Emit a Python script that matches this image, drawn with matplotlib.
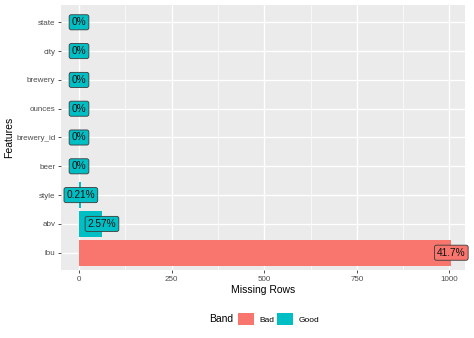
import matplotlib
matplotlib.use("Agg")
import matplotlib.pyplot as plt
from matplotlib.patches import Patch

features = ["state", "city", "brewery", "ounces", "brewery_id", "beer", "style", "abv", "ibu"]
missing_rows = [0, 0, 0, 0, 0, 0, 5, 62, 1005]
pct_labels = ["0%", "0%", "0%", "0%", "0%", "0%", "0.21%", "2.57%", "41.7%"]
band = ["Good", "Good", "Good", "Good", "Good", "Good", "Good", "Good", "Bad"]
band_colors = {"Bad": "#F8766D", "Good": "#00BFC4"}
x_ticks = [0, 250, 500, 750, 1000]
x_minor = [125, 375, 625, 875]

plt.rcParams['font.family'] = ['Liberation Sans', 'DejaVu Sans']

fig = plt.figure(figsize=(4.74, 3.38), dpi=100)
ax = fig.add_axes([61/474, 1-270/338, (465-61)/474, (270-5)/338])
ax.set_facecolor("#EBEBEB")

n = len(features)
ypos = [n - 1 - i for i in range(n)]
cols = [band_colors[b] for b in band]
ax.barh(ypos, missing_rows, height=0.9, color=cols, zorder=2)

for y, v, lab, c in zip(ypos, missing_rows, pct_labels, cols):
    ax.text(v, y, lab, ha="center", va="center", fontsize=7.3, color="#111111", zorder=3,
            bbox=dict(boxstyle="round,pad=0.25,rounding_size=0.2", fc=c, ec="#3a3a3a", lw=0.6))

ax.set_xlim(-48.6, 1042)
ax.set_ylim(-0.6, n - 1 + 0.6)
ax.set_yticks(ypos)
ax.set_yticklabels(features)
ax.set_xticks(x_ticks)
ax.set_xticks(x_minor, minor=True)
ax.grid(True, which="major", color="white", lw=1.0, zorder=0)
ax.grid(True, which="minor", axis="x", color="white", lw=0.5, zorder=0)
ax.set_axisbelow(True)
for s in ax.spines.values():
    s.set_visible(False)
ax.tick_params(axis="both", which="major", length=2.5, width=0.6, color="#333333",
               labelsize=5.8, labelcolor="#4D4D4D", pad=1.5)
ax.tick_params(axis="both", which="minor", length=0)

ax.set_xlabel("Missing Rows", fontsize=7.5, labelpad=2)
ax.set_ylabel("Features", fontsize=7.5, labelpad=1.5)

handles = [Patch(facecolor=band_colors["Bad"], label="Bad"),
           Patch(facecolor=band_colors["Good"], label="Good")]
fig.legend(handles=handles, loc="center left", bbox_to_anchor=(238/474, 1-319/338),
           ncol=2, frameon=False, fontsize=6, handlelength=1.92, handleheight=1.92,
           handletextpad=0.6, columnspacing=0.4, borderpad=0, borderaxespad=0)
fig.text(221/474, 1-319/338, "Band", ha="center", va="center", fontsize=7.5)

fig.savefig("out.png", dpi=100)
